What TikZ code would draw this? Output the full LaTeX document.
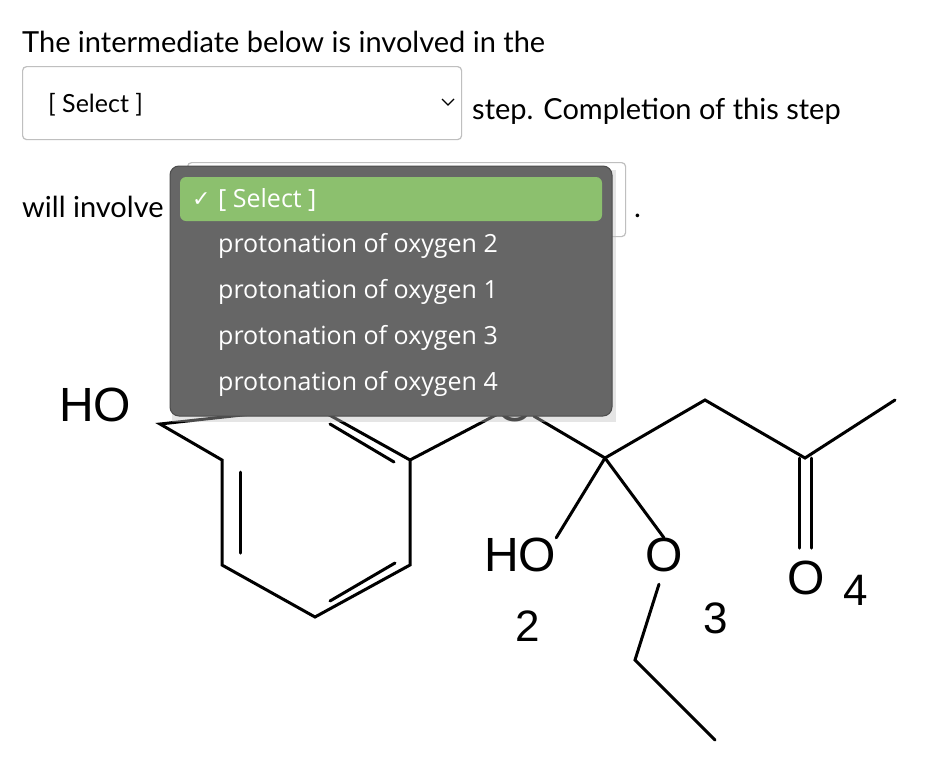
\documentclass[tikz,border=0pt]{standalone}
\usepackage{fontspec}
\setmainfont{Lato}
\newfontfamily\arialf{Liberation Sans}
\newfontfamily\menuf{Open Sans}
\newfontfamily\djv{DejaVu Sans}
\begin{document}
\begin{tikzpicture}[x=1pt,y=-1pt,
  txt/.style={anchor=base west,inner sep=0pt,font=\fontsize{29}{32}\selectfont},
  selbox/.style={draw=black!25,line width=1.2pt,rounded corners=4pt,fill=white},
  item/.style={anchor=west,inner sep=0pt,text=white,font=\menuf\fontsize{25}{28}\selectfont},
  bond/.style={line width=3pt,line cap=round},
  atom/.style={inner sep=0pt,font=\arialf\fontsize{48}{50}\selectfont},
  num/.style={inner sep=0pt,font=\arialf\fontsize{44}{46}\selectfont}]
\useasboundingbox (0,0) rectangle (934,766);
\fill[white] (0,0) rectangle (934,766);
% text
\node[txt] (l1) at (22,52) {The intermediate below is involved in the};
\node[selbox,minimum width=439pt,minimum height=73pt,anchor=north west] (s1) at (22,66) {};
\node[txt,font=\fontsize{25}{28}\selectfont] (s1t) at (48,112) {[ Select ]};
\draw[line width=1.3pt] (442,99) -- (448,105) -- (454,99);
\node[txt] (l2) at (472,119) {step. Completion of this step};
\node[txt] (l3) at (22,217) {will involve};
\node[selbox,minimum width=438pt,minimum height=74pt,anchor=north west] (s2) at (187,162) {};
\node[txt] (dot) at (634,217) {.};
% molecule
\coordinate (r1) at (222,460); \coordinate (r2) at (222,565);
\coordinate (r3) at (315,617); \coordinate (r4) at (410,565);
\coordinate (r5) at (410,460); \coordinate (r6) at (315,407);
\node[atom] (ho1) at (95,405) {HO};
\node[atom] (o1) at (515,405) {O};
\coordinate (c1) at (605,458); \coordinate (c2) at (705,400);
\coordinate (c3) at (805,458); \coordinate (c4) at (895,400);
\node[atom] (o2) at (520,555) {HO};
\node[num] (n2) at (528,626) {2};
\node[atom] (o3) at (664,555) {O};
\node[num] (n3) at (716,618) {3};
\node[atom] (o4) at (806,578) {O};
\node[num] (n4) at (856,590) {4};
\coordinate (e1) at (635,660); \coordinate (e2) at (715,740);
\draw[bond] (160,424) -- (r1) -- (r2) -- (r3) -- (r4) -- (r5) -- (r6) -- cycle;
\draw[bond] (240,472) -- (240,553);
\draw[bond] (330,601) -- (395,563);
\draw[bond] (330,424) -- (394,462);
\draw[bond] (r5) -- (o1);
\draw[bond] (o1) -- (c1) -- (c2) -- (c3) -- (c4);
\draw[bond] (c1) -- (o2.north east);
\draw[bond] (c1) -- (o3.north);
\draw[bond] (799,458) -- (799,548);
\draw[bond] (811,458) -- (811,548);
\draw[bond] (o3.south) ++(-5,12) coordinate (o3b) (o3b) -- (e1) -- (e2);
% dropdown
\fill[black!25,opacity=0.4] (172,170) rectangle (616,422);
\draw[fill=black!60,draw=black!70,line width=1pt,rounded corners=9pt] (170,166) rectangle (612,416);
\fill[rounded corners=6pt,fill={rgb,255:red,140;green,192;blue,110}] (180,177) rectangle (602,221);
\node[item,font=\djv\fontsize{22}{24}\selectfont] (chk) at (192,200) {✓};
\node[item] (i0) at (218,200) {[ Select ]};
\node[item] (i1) at (218,246) {protonation of oxygen 2};
\node[item] (i2) at (218,292) {protonation of oxygen 1};
\node[item] (i3) at (218,338) {protonation of oxygen 3};
\node[item] (i4) at (218,384) {protonation of oxygen 4};
\end{tikzpicture}
\end{document}
